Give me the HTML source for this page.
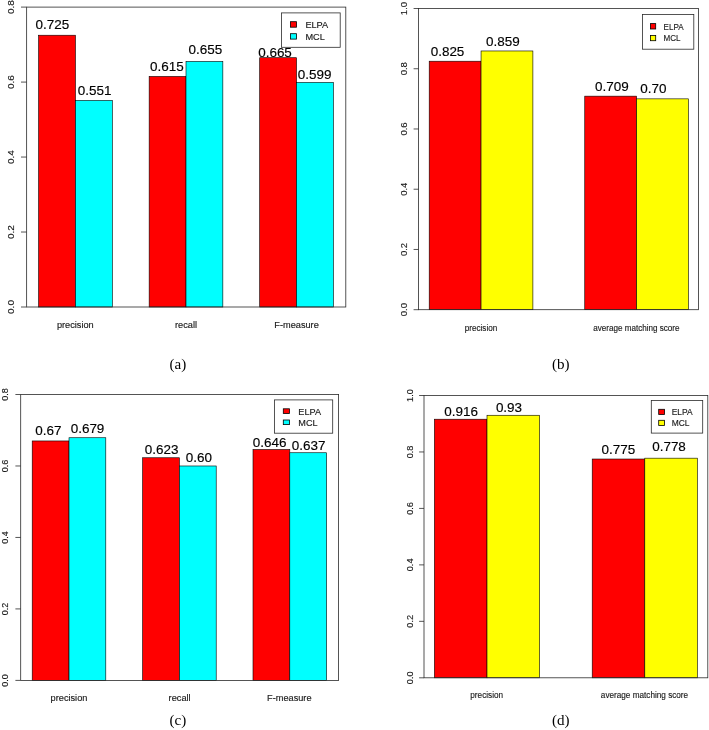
<!DOCTYPE html>
<html lang="en"><head><meta charset="utf-8"><title>ELPA vs MCL</title>
<style>
html,body{margin:0;padding:0;background:#fff;}
body{width:709px;height:730px;overflow:hidden;}
svg{display:block;}
.ax{font-family:"Liberation Sans",Arial,Helvetica,sans-serif;fill:#1a1a1a;stroke:#1a1a1a;stroke-width:0.15px;}
.val{font-family:"Liberation Sans",Arial,Helvetica,sans-serif;fill:#000;stroke:#000;stroke-width:0.15px;}
.cap{font-family:"Liberation Serif","Times New Roman",serif;font-size:14.1px;fill:#000;}
</style></head><body>
<svg width="709" height="730" viewBox="0 0 709 730">
<rect width="709" height="730" fill="#fff"/>
<g id="chart-a">
<rect x="38.60" y="35.22" width="36.85" height="271.78" fill="#ff0000" stroke="#000" stroke-width="0.6"/>
<rect x="75.45" y="100.44" width="36.85" height="206.56" fill="#00ffff" stroke="#000" stroke-width="0.6"/>
<text class="ax" font-size="9.2" text-anchor="middle" transform="translate(75.30,328.3) scale(1.0,1)">precision</text>
<rect x="149.15" y="76.45" width="36.85" height="230.55" fill="#ff0000" stroke="#000" stroke-width="0.6"/>
<rect x="186.00" y="61.46" width="36.85" height="245.54" fill="#00ffff" stroke="#000" stroke-width="0.6"/>
<text class="ax" font-size="9.2" text-anchor="middle" transform="translate(186.00,328.3) scale(1.0,1)">recall</text>
<rect x="259.70" y="57.71" width="36.85" height="249.29" fill="#ff0000" stroke="#000" stroke-width="0.6"/>
<rect x="296.55" y="82.45" width="36.85" height="224.55" fill="#00ffff" stroke="#000" stroke-width="0.6"/>
<text class="ax" font-size="9.2" text-anchor="middle" transform="translate(296.55,328.3) scale(1.0,1)">F-measure</text>
<rect x="26.65" y="7.1" width="319.15" height="299.90" fill="none" stroke="#2a2a2a" stroke-width="0.8"/>
<line x1="21.0" y1="307.00" x2="26.65" y2="307.00" stroke="#2a2a2a" stroke-width="0.8"/>
<text class="ax" font-size="10.0" text-anchor="middle" transform="translate(13.7,307.00) rotate(-90) scale(1,0.96)">0.0</text>
<line x1="21.0" y1="232.03" x2="26.65" y2="232.03" stroke="#2a2a2a" stroke-width="0.8"/>
<text class="ax" font-size="10.0" text-anchor="middle" transform="translate(13.7,232.03) rotate(-90) scale(1,0.96)">0.2</text>
<line x1="21.0" y1="157.05" x2="26.65" y2="157.05" stroke="#2a2a2a" stroke-width="0.8"/>
<text class="ax" font-size="10.0" text-anchor="middle" transform="translate(13.7,157.05) rotate(-90) scale(1,0.96)">0.4</text>
<line x1="21.0" y1="82.08" x2="26.65" y2="82.08" stroke="#2a2a2a" stroke-width="0.8"/>
<text class="ax" font-size="10.0" text-anchor="middle" transform="translate(13.7,82.08) rotate(-90) scale(1,0.96)">0.6</text>
<line x1="21.0" y1="7.10" x2="26.65" y2="7.10" stroke="#2a2a2a" stroke-width="0.8"/>
<text class="ax" font-size="10.0" text-anchor="middle" transform="translate(13.7,7.10) rotate(-90) scale(1,0.96)">0.8</text>
<text class="val" font-size="13.5" text-anchor="middle" transform="translate(52.4,28.6) scale(1,0.93)">0.725</text>
<text class="val" font-size="13.5" text-anchor="middle" transform="translate(94.6,94.6) scale(1,0.93)">0.551</text>
<text class="val" font-size="13.5" text-anchor="middle" transform="translate(166.8,70.6) scale(1,0.93)">0.615</text>
<text class="val" font-size="13.5" text-anchor="middle" transform="translate(205.3,53.7) scale(1,0.93)">0.655</text>
<text class="val" font-size="13.5" text-anchor="middle" transform="translate(275.0,57.1) scale(1,0.93)">0.665</text>
<text class="val" font-size="13.5" text-anchor="middle" transform="translate(314.6,79.1) scale(1,0.93)">0.599</text>
<rect x="281.5" y="12.9" width="58.70" height="34.40" fill="#fff" stroke="#2a2a2a" stroke-width="0.8"/>
<rect x="290.40" y="21.70" width="6.10" height="5.50" fill="#ff0000" stroke="#000" stroke-width="0.8"/>
<text class="ax" font-size="9.1" transform="translate(305.4,27.7) scale(1.01,1)">ELPA</text>
<rect x="290.40" y="33.70" width="6.10" height="5.40" fill="#00ffff" stroke="#000" stroke-width="0.8"/>
<text class="ax" font-size="9.1" transform="translate(305.4,39.7) scale(1.01,1)">MCL</text>
<text class="cap" text-anchor="middle" transform="translate(177.8,368.9) scale(1.07,1)">(a)</text>
</g>
<g id="chart-b">
<rect x="429.20" y="61.21" width="51.85" height="248.49" fill="#ff0000" stroke="#000" stroke-width="0.6"/>
<rect x="481.05" y="50.97" width="51.85" height="258.73" fill="#ffff00" stroke="#000" stroke-width="0.6"/>
<text class="ax" font-size="9.0" text-anchor="middle" transform="translate(481.00,330.7) scale(0.9,1)">precision</text>
<rect x="584.75" y="96.15" width="51.85" height="213.55" fill="#ff0000" stroke="#000" stroke-width="0.6"/>
<rect x="636.60" y="98.86" width="51.85" height="210.84" fill="#ffff00" stroke="#000" stroke-width="0.6"/>
<text class="ax" font-size="9.0" text-anchor="middle" transform="translate(636.40,330.7) scale(0.9,1)">average matching score</text>
<rect x="418.5" y="8.5" width="280.10" height="301.20" fill="none" stroke="#2a2a2a" stroke-width="0.8"/>
<line x1="413.6" y1="309.70" x2="418.5" y2="309.70" stroke="#2a2a2a" stroke-width="0.8"/>
<text class="ax" font-size="9.55" text-anchor="middle" transform="translate(407.2,309.70) rotate(-90) scale(1,0.907)">0.0</text>
<line x1="413.6" y1="249.46" x2="418.5" y2="249.46" stroke="#2a2a2a" stroke-width="0.8"/>
<text class="ax" font-size="9.55" text-anchor="middle" transform="translate(407.2,249.46) rotate(-90) scale(1,0.907)">0.2</text>
<line x1="413.6" y1="189.22" x2="418.5" y2="189.22" stroke="#2a2a2a" stroke-width="0.8"/>
<text class="ax" font-size="9.55" text-anchor="middle" transform="translate(407.2,189.22) rotate(-90) scale(1,0.907)">0.4</text>
<line x1="413.6" y1="128.98" x2="418.5" y2="128.98" stroke="#2a2a2a" stroke-width="0.8"/>
<text class="ax" font-size="9.55" text-anchor="middle" transform="translate(407.2,128.98) rotate(-90) scale(1,0.907)">0.6</text>
<line x1="413.6" y1="68.74" x2="418.5" y2="68.74" stroke="#2a2a2a" stroke-width="0.8"/>
<text class="ax" font-size="9.55" text-anchor="middle" transform="translate(407.2,68.74) rotate(-90) scale(1,0.907)">0.8</text>
<line x1="413.6" y1="8.50" x2="418.5" y2="8.50" stroke="#2a2a2a" stroke-width="0.8"/>
<text class="ax" font-size="9.55" text-anchor="middle" transform="translate(407.2,8.50) rotate(-90) scale(1,0.907)">1.0</text>
<text class="val" font-size="13.5" text-anchor="middle" transform="translate(447.5,55.9) scale(1,0.93)">0.825</text>
<text class="val" font-size="13.5" text-anchor="middle" transform="translate(502.9,45.7) scale(1,0.93)">0.859</text>
<text class="val" font-size="13.5" text-anchor="middle" transform="translate(611.9,90.6) scale(1,0.93)">0.709</text>
<text class="val" font-size="13.5" text-anchor="middle" transform="translate(653.4,93.2) scale(1,0.93)">0.70</text>
<rect x="642.5" y="14.5" width="51.30" height="34.70" fill="#fff" stroke="#2a2a2a" stroke-width="0.8"/>
<rect x="650.40" y="23.60" width="5.30" height="5.40" fill="#ff0000" stroke="#000" stroke-width="0.8"/>
<text class="ax" font-size="9.8" transform="translate(663.5,29.7) scale(0.826,1)">ELPA</text>
<rect x="650.40" y="35.40" width="5.30" height="5.30" fill="#ffff00" stroke="#000" stroke-width="0.8"/>
<text class="ax" font-size="9.8" transform="translate(663.5,41.3) scale(0.826,1)">MCL</text>
<text class="cap" text-anchor="middle" transform="translate(560.7,368.9) scale(1.07,1)">(b)</text>
</g>
<g id="chart-c">
<rect x="32.20" y="440.96" width="36.80" height="239.44" fill="#ff0000" stroke="#000" stroke-width="0.6"/>
<rect x="69.00" y="437.74" width="36.80" height="242.66" fill="#00ffff" stroke="#000" stroke-width="0.6"/>
<text class="ax" font-size="9.2" text-anchor="middle" transform="translate(69.00,701.0) scale(1.0,1)">precision</text>
<rect x="142.60" y="457.76" width="36.80" height="222.64" fill="#ff0000" stroke="#000" stroke-width="0.6"/>
<rect x="179.40" y="465.98" width="36.80" height="214.42" fill="#00ffff" stroke="#000" stroke-width="0.6"/>
<text class="ax" font-size="9.2" text-anchor="middle" transform="translate(179.60,701.0) scale(1.0,1)">recall</text>
<rect x="253.00" y="449.54" width="36.80" height="230.86" fill="#ff0000" stroke="#000" stroke-width="0.6"/>
<rect x="289.80" y="452.75" width="36.80" height="227.65" fill="#00ffff" stroke="#000" stroke-width="0.6"/>
<text class="ax" font-size="9.2" text-anchor="middle" transform="translate(289.30,701.0) scale(1.0,1)">F-measure</text>
<rect x="20.7" y="394.5" width="317.90" height="285.90" fill="none" stroke="#2a2a2a" stroke-width="0.8"/>
<line x1="15.4" y1="680.40" x2="20.7" y2="680.40" stroke="#2a2a2a" stroke-width="0.8"/>
<text class="ax" font-size="9.0" text-anchor="middle" transform="translate(7.8,680.40) rotate(-90) scale(1,1.0)">0.0</text>
<line x1="15.4" y1="608.92" x2="20.7" y2="608.92" stroke="#2a2a2a" stroke-width="0.8"/>
<text class="ax" font-size="9.0" text-anchor="middle" transform="translate(7.8,608.92) rotate(-90) scale(1,1.0)">0.2</text>
<line x1="15.4" y1="537.45" x2="20.7" y2="537.45" stroke="#2a2a2a" stroke-width="0.8"/>
<text class="ax" font-size="9.0" text-anchor="middle" transform="translate(7.8,537.45) rotate(-90) scale(1,1.0)">0.4</text>
<line x1="15.4" y1="465.98" x2="20.7" y2="465.98" stroke="#2a2a2a" stroke-width="0.8"/>
<text class="ax" font-size="9.0" text-anchor="middle" transform="translate(7.8,465.98) rotate(-90) scale(1,1.0)">0.6</text>
<line x1="15.4" y1="394.50" x2="20.7" y2="394.50" stroke="#2a2a2a" stroke-width="0.8"/>
<text class="ax" font-size="9.0" text-anchor="middle" transform="translate(7.8,394.50) rotate(-90) scale(1,1.0)">0.8</text>
<text class="val" font-size="13.5" text-anchor="middle" transform="translate(48.4,435.4) scale(1,0.93)">0.67</text>
<text class="val" font-size="13.5" text-anchor="middle" transform="translate(87.5,432.9) scale(1,0.93)">0.679</text>
<text class="val" font-size="13.5" text-anchor="middle" transform="translate(161.6,453.9) scale(1,0.93)">0.623</text>
<text class="val" font-size="13.5" text-anchor="middle" transform="translate(198.8,462.0) scale(1,0.93)">0.60</text>
<text class="val" font-size="13.5" text-anchor="middle" transform="translate(269.6,447.2) scale(1,0.93)">0.646</text>
<text class="val" font-size="13.5" text-anchor="middle" transform="translate(308.6,450.4) scale(1,0.93)">0.637</text>
<rect x="274.4" y="399.9" width="58.30" height="33.30" fill="#fff" stroke="#2a2a2a" stroke-width="0.8"/>
<rect x="283.30" y="408.80" width="6.10" height="4.70" fill="#ff0000" stroke="#000" stroke-width="0.8"/>
<text class="ax" font-size="9.1" transform="translate(298.3,414.5) scale(1.005,1)">ELPA</text>
<rect x="283.30" y="420.00" width="6.10" height="4.60" fill="#00ffff" stroke="#000" stroke-width="0.8"/>
<text class="ax" font-size="9.1" transform="translate(298.3,425.7) scale(1.005,1)">MCL</text>
<text class="cap" text-anchor="middle" transform="translate(177.9,725.4) scale(1.07,1)">(c)</text>
</g>
<g id="chart-d">
<rect x="434.40" y="419.21" width="52.60" height="258.59" fill="#ff0000" stroke="#000" stroke-width="0.6"/>
<rect x="487.00" y="415.26" width="52.60" height="262.54" fill="#ffff00" stroke="#000" stroke-width="0.6"/>
<text class="ax" font-size="9.0" text-anchor="middle" transform="translate(486.70,698.0) scale(0.91,1)">precision</text>
<rect x="592.20" y="459.02" width="52.60" height="218.78" fill="#ff0000" stroke="#000" stroke-width="0.6"/>
<rect x="644.80" y="458.17" width="52.60" height="219.63" fill="#ffff00" stroke="#000" stroke-width="0.6"/>
<text class="ax" font-size="9.0" text-anchor="middle" transform="translate(644.50,698.0) scale(0.91,1)">average matching score</text>
<rect x="424.0" y="395.5" width="283.80" height="282.30" fill="none" stroke="#2a2a2a" stroke-width="0.8"/>
<line x1="419.1" y1="677.80" x2="424.0" y2="677.80" stroke="#2a2a2a" stroke-width="0.8"/>
<text class="ax" font-size="9.2" text-anchor="middle" transform="translate(412.6,677.80) rotate(-90) scale(1,0.926)">0.0</text>
<line x1="419.1" y1="621.34" x2="424.0" y2="621.34" stroke="#2a2a2a" stroke-width="0.8"/>
<text class="ax" font-size="9.2" text-anchor="middle" transform="translate(412.6,621.34) rotate(-90) scale(1,0.926)">0.2</text>
<line x1="419.1" y1="564.88" x2="424.0" y2="564.88" stroke="#2a2a2a" stroke-width="0.8"/>
<text class="ax" font-size="9.2" text-anchor="middle" transform="translate(412.6,564.88) rotate(-90) scale(1,0.926)">0.4</text>
<line x1="419.1" y1="508.42" x2="424.0" y2="508.42" stroke="#2a2a2a" stroke-width="0.8"/>
<text class="ax" font-size="9.2" text-anchor="middle" transform="translate(412.6,508.42) rotate(-90) scale(1,0.926)">0.6</text>
<line x1="419.1" y1="451.96" x2="424.0" y2="451.96" stroke="#2a2a2a" stroke-width="0.8"/>
<text class="ax" font-size="9.2" text-anchor="middle" transform="translate(412.6,451.96) rotate(-90) scale(1,0.926)">0.8</text>
<line x1="419.1" y1="395.50" x2="424.0" y2="395.50" stroke="#2a2a2a" stroke-width="0.8"/>
<text class="ax" font-size="9.2" text-anchor="middle" transform="translate(412.6,395.50) rotate(-90) scale(1,0.926)">1.0</text>
<text class="val" font-size="13.5" text-anchor="middle" transform="translate(461.1,415.8) scale(1,0.93)">0.916</text>
<text class="val" font-size="13.5" text-anchor="middle" transform="translate(509.0,411.9) scale(1,0.93)">0.93</text>
<text class="val" font-size="13.5" text-anchor="middle" transform="translate(618.4,454.2) scale(1,0.93)">0.775</text>
<text class="val" font-size="13.5" text-anchor="middle" transform="translate(669.0,451.4) scale(1,0.93)">0.778</text>
<rect x="651.3" y="400.4" width="51.40" height="32.70" fill="#fff" stroke="#2a2a2a" stroke-width="0.8"/>
<rect x="658.70" y="409.30" width="5.80" height="5.20" fill="#ff0000" stroke="#000" stroke-width="0.8"/>
<text class="ax" font-size="9.2" transform="translate(671.7,415.0) scale(0.917,1)">ELPA</text>
<rect x="658.70" y="420.30" width="5.80" height="5.20" fill="#ffff00" stroke="#000" stroke-width="0.8"/>
<text class="ax" font-size="9.2" transform="translate(671.7,426.0) scale(0.917,1)">MCL</text>
<text class="cap" text-anchor="middle" transform="translate(560.7,725.4) scale(1.07,1)">(d)</text>
</g>
</svg>
</body></html>
